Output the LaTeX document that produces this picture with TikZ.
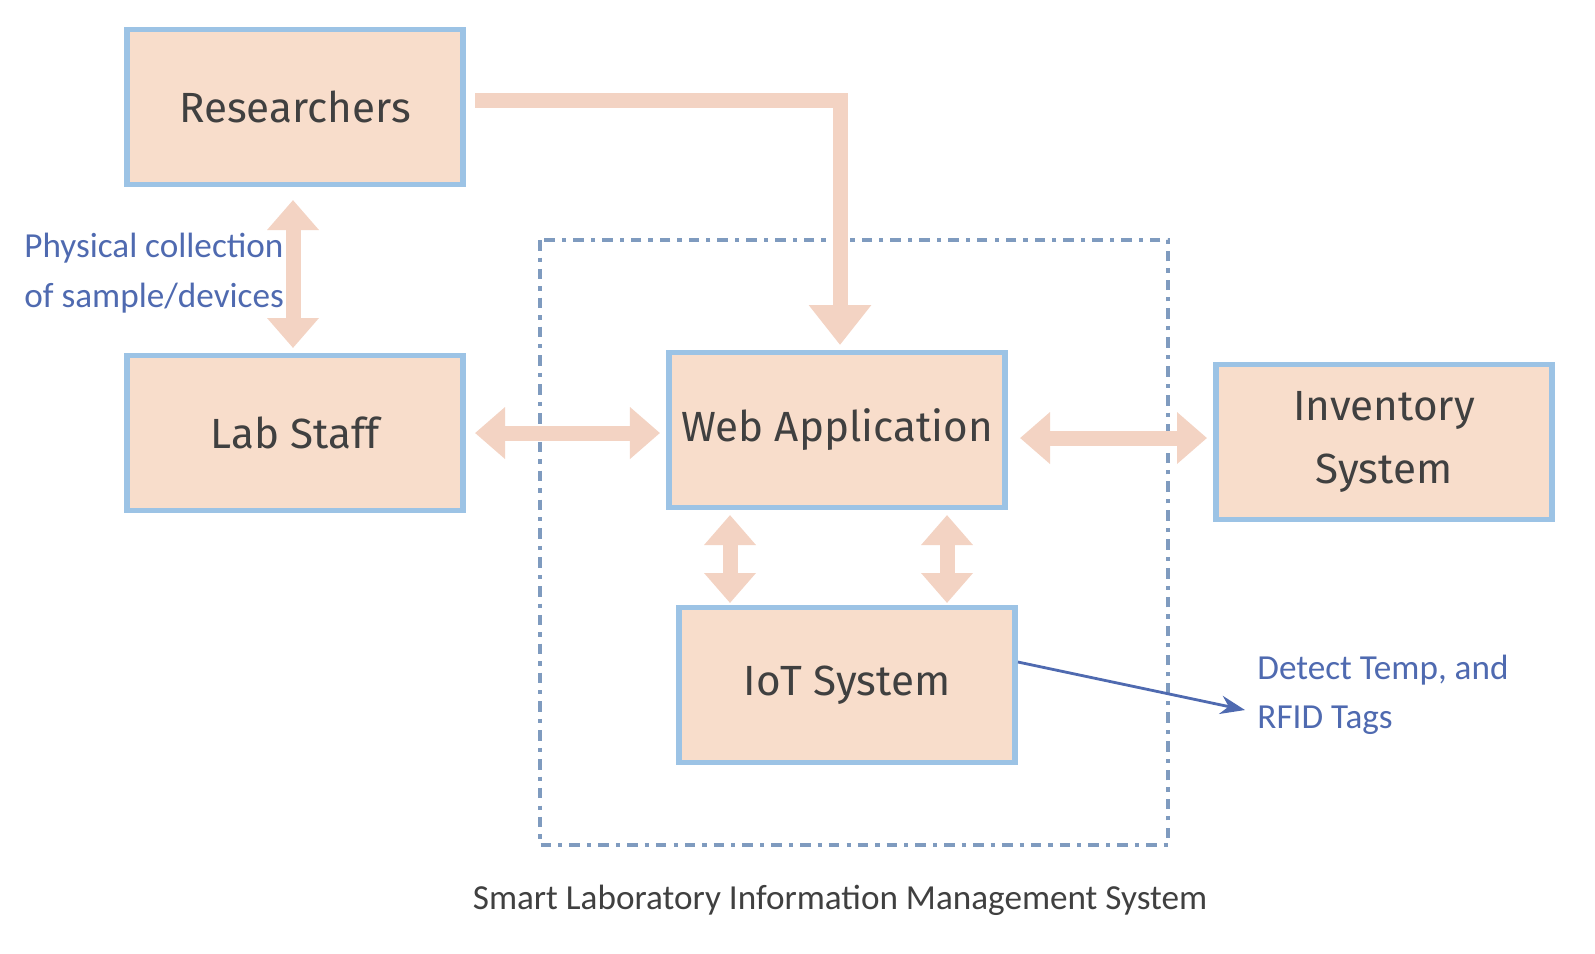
\documentclass[tikz,border=0pt]{standalone}
\usepackage{fontspec}
\setmainfont{Carlito}
\newfontfamily\boxfont{Fira Sans}
\usetikzlibrary{arrows.meta}
\definecolor{peach}{HTML}{F8DDCB}
\definecolor{fatar}{HTML}{F3D3C3}
\definecolor{bord}{HTML}{9CC3E5}
\definecolor{lbl}{HTML}{4F6AB0}
\definecolor{dashcol}{HTML}{7F9BBF}
\tikzset{
  blk/.style={draw=bord,line width=1.6pt,fill=peach,minimum width=3.36cm,minimum height=1.55cm,font=\boxfont\large,text=black!75,align=center,inner sep=0pt},
  fat/.style={draw=fatar,line width=0.15cm,arrows={-Triangle[length=0.4cm,width=0.6cm]}},
  fatboth/.style={draw=fatar,line width=0.15cm,arrows={Triangle[length=0.3cm,width=0.5cm]-Triangle[length=0.3cm,width=0.5cm]}},
  lab/.style={text=lbl,font=\normalsize,align=left,anchor=west}
}
\begin{document}
\begin{tikzpicture}[x=0.01cm,y=-0.01cm]
\useasboundingbox (0,0) rectangle (1595,953);
\draw[dashcol,line width=1.2pt,dash dot] (540,240) rectangle (1168,845);
\node[blk] (res) at (295,107) {Researchers};
\node[blk] (lab) at (295,433) {Lab Staff};
\node[blk] (web) at (837,430) {Web Application};
\node[blk] (inv) at (1384,442) {Inventory\\[4pt]System};
\node[blk] (iot) at (847,685) {IoT System};
\coordinate (r1) at (475,100);
\coordinate (r2) at (840,100);
\coordinate (r3) at (840,345);
\draw[fat] (r1) -- (r2) -- (r3);
\coordinate (a1) at (293,200); \coordinate (a2) at (293,348);
\draw[fatboth] (a1) -- (a2);
\coordinate (b1) at (475,433); \coordinate (b2) at (660,433);
\draw[fatboth] (b1) -- (b2);
\coordinate (c1) at (1020,438); \coordinate (c2) at (1207,438);
\draw[fatboth] (c1) -- (c2);
\coordinate (d1) at (730,515); \coordinate (d2) at (730,603);
\draw[fatboth] (d1) -- (d2);
\coordinate (e1) at (947,515); \coordinate (e2) at (947,603);
\draw[fatboth] (e1) -- (e2);
\node[lab] (phys) at (12,273) {Physical collection\\[2pt]of sample/devices};
\node[lab] (det) at (1245,695) {Detect Temp, and\\[2pt]RFID Tags};
\coordinate (s1) at (1018,662);
\coordinate (tip) at (1245,710);
\draw[lbl,line width=0.8pt,-{Stealth[length=7pt]}] (s1) -- (tip);
\node[text=black!75,font=\normalsize] (cap) at (840,900) {Smart Laboratory Information Management System};
\end{tikzpicture}
\end{document}
